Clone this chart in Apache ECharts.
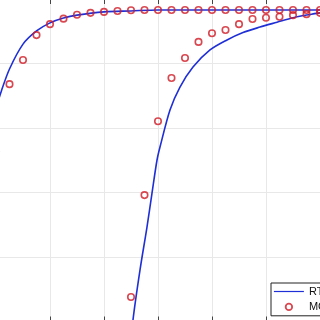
<!DOCTYPE html>
<html>
<head>
<meta charset="utf-8">
<script src="https://cdn.jsdelivr.net/npm/echarts@6/dist/echarts.min.js"></script>
<style>html,body{margin:0;padding:0;background:#fff;}#c{width:320px;height:320px;}</style>
</head>
<body>
<div id="c"></div>
<script>
// Curve 1 (RTE)
var rte1X = [0, 0.1, 0.25, 0.5, 0.75, 1.0, 1.25, 1.5, 2.0, 2.5, 3.0, 4.0, 5.0, 6.4];
var rte1Y = [0.662, 0.715, 0.783, 0.860, 0.901, 0.926, 0.941, 0.950, 0.960, 0.963, 0.966, 0.966, 0.966, 0.966];
// Curve 2 (RTE)
var rte2X = [2.52, 2.537, 2.667, 2.796, 2.889, 2.981, 3.037, 3.222, 3.407, 3.648, 3.963, 4.278, 4.574, 4.889, 5.204, 5.5, 5.815, 6.0, 6.4];
var rte2Y = [-0.05, 0.005, 0.160, 0.293, 0.398, 0.500, 0.541, 0.656, 0.727, 0.789, 0.842, 0.873, 0.896, 0.913, 0.928, 0.942, 0.952, 0.957, 0.962];
// MC markers set 1
var mc1X = [0, 0.25, 0.5, 0.75, 1.0, 1.25, 1.5, 1.75, 2.0, 2.25, 2.5, 2.75, 3.0, 3.25, 3.5, 3.75, 4.0, 4.25, 4.5, 4.75, 5.0, 5.25, 5.5, 5.75, 6.0, 6.25];
var mc1Y = [0.526, 0.736, 0.811, 0.888, 0.922, 0.939, 0.951, 0.957, 0.960, 0.963, 0.965, 0.966, 0.966, 0.966, 0.966, 0.966, 0.966, 0.966, 0.966, 0.966, 0.966, 0.966, 0.966, 0.966, 0.966, 0.966];
// MC markers set 2
var mc2X = [2.5, 2.75, 3.0, 3.25, 3.5, 3.75, 4.0, 4.25, 4.5, 4.75, 5.0, 5.25, 5.5, 5.75, 6.0, 6.25];
var mc2Y = [0.076, 0.392, 0.621, 0.755, 0.817, 0.867, 0.894, 0.904, 0.922, 0.938, 0.942, 0.945, 0.950, 0.953, 0.957, 0.960];
var legendNames = ['RTE', 'MC'];

function zip(a, b) { return a.map(function (v, i) { return [v, b[i]]; }); }

var chart = echarts.init(document.getElementById('c'), null, {renderer: 'canvas'});
var blue = '#1f2fd6';
var red = '#d01a26';
var axisCommon = {
  type: 'value', min: 0, max: 6.4, interval: 1,
  axisLabel: {show: false},
  axisLine: {show: true, lineStyle: {color: '#333', width: 1}},
  axisTick: {show: true, inside: true, length: 5, lineStyle: {color: '#444'}}
};
var lineIcon = 'path://M0,0L0,0M0,4.4L30,4.4L30,5.6L0,5.6ZM30,10L30,10';
var circIcon = 'path://M0,0L0,0M11.75,5A3.25,3.25,0,1,0,18.25,5A3.25,3.25,0,1,0,11.75,5ZM30,10L30,10';
chart.setOption({
  animation: false,
  backgroundColor: '#fff',
  grid: {left: -4, top: -1, width: 345.6, height: 322.5, containLabel: false, outerBoundsMode: 'none'},
  xAxis: [
    Object.assign({}, axisCommon, {position: 'bottom', splitLine: {show: true, lineStyle: {color: '#e8e8e8', width: 1}}}),
    Object.assign({}, axisCommon, {position: 'top', splitLine: {show: false}})
  ],
  yAxis: {
    type: 'value', min: 0, max: 1, interval: 0.2,
    axisLabel: {show: false},
    axisLine: {show: false}, axisTick: {show: false},
    splitLine: {show: true, lineStyle: {color: '#e8e8e8', width: 1}}
  },
  legend: {
    show: true,
    orient: 'vertical', left: 271, top: 283,
    padding: [3, 4, 3, 2], itemGap: 4,
    itemWidth: 30, itemHeight: 10,
    borderColor: '#222', borderWidth: 1, borderRadius: 0,
    backgroundColor: '#fff',
    textStyle: {fontSize: 11, color: '#111', fontFamily: 'Liberation Sans, Arial, sans-serif'},
    data: [
      {name: legendNames[0], icon: lineIcon, itemStyle: {color: blue, borderWidth: 0}},
      {name: legendNames[1], icon: circIcon, itemStyle: {color: 'rgba(255,255,255,0)', borderColor: red, borderWidth: 1.8}}
    ]
  },
  series: [
    {name: legendNames[0], type: 'line', smooth: 0.3, symbol: 'none', data: zip(rte1X, rte1Y), lineStyle: {color: blue, width: 1.6}, itemStyle: {color: blue}, z: 2},
    {name: legendNames[0], type: 'line', smooth: 0.3, symbol: 'none', data: zip(rte2X, rte2Y), lineStyle: {color: blue, width: 1.6}, itemStyle: {color: blue}, z: 2},
    {name: legendNames[1], type: 'scatter', symbol: 'circle', symbolSize: 6.5, data: zip(mc1X, mc1Y), itemStyle: {color: 'rgba(255,255,255,0)', borderColor: red, borderWidth: 1.6}, z: 3},
    {name: legendNames[1], type: 'scatter', symbol: 'circle', symbolSize: 6.5, data: zip(mc2X, mc2Y), itemStyle: {color: 'rgba(255,255,255,0)', borderColor: red, borderWidth: 1.6}, z: 3}
  ]
});
</script>
</body>
</html>
